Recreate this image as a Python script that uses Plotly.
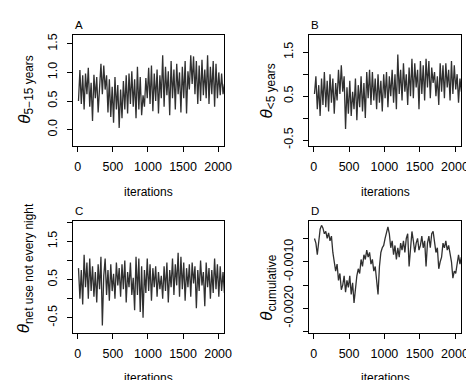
import plotly.graph_objects as go

iterations = list(range(10, 2091, 20))

theta_5_15 = [
    0.50, 1.04, 0.45, 0.95, 0.35, 0.98, 0.62, 1.08, 0.40, 0.82,
    0.15, 0.96, 0.55, 0.92, 0.30, 0.78, 1.15, 0.62, 1.12, 0.70,
    0.95, 0.30, 0.88, 0.22, 0.75, 0.12, 0.92, 0.35, 0.78, 0.03,
    0.70, 0.20, 0.85, 0.35, 0.95, 0.28, 0.98, 0.45, 1.02, 0.40,
    0.88, 0.20, 1.10, 0.35, 0.92, 0.25, 0.60, 0.40, 0.90, 0.55,
    1.08, 0.45, 1.12, 0.32, 0.98, 0.50, 1.05, 0.28, 0.95, 0.55,
    1.30, 0.40, 1.10, 0.60, 1.02, 0.25, 1.20, 0.55, 1.05, 0.35,
    1.15, 0.62, 1.00, 0.30, 1.10, 0.55, 1.20, 0.28, 1.02, 0.70,
    1.30, 0.80, 1.28, 0.62, 1.20, 0.45, 1.12, 0.50, 1.22, 0.60,
    1.05, 0.55, 1.30, 0.45, 1.10, 0.62, 1.20, 0.40, 1.15, 0.55,
    1.00, 0.60, 0.98, 0.62, 0.80,
]

theta_lt5 = [
    0.55, 0.95, 0.20, 0.75, 0.05, 0.90, 0.30, 1.05, 0.25, 0.85,
    0.15, 1.00, 0.35, 0.90, 0.10, 0.80, 0.40, 1.10, 0.55, 1.20,
    0.60, 0.95, -0.25, 0.70, 0.10, 0.85, 0.05, 0.60, 0.20, 0.90,
    -0.05, 0.75, 0.25, 0.95, 0.15, 0.80, 0.00, 1.05, 0.45, 1.10,
    0.30, 1.05, 0.40, 0.90, 0.20, 1.00, 0.35, 0.85, 0.15, 1.00,
    0.45, 1.05, 0.25, 0.95, 0.50, 1.10, 0.35, 1.00, 0.20, 1.45,
    0.55, 1.10, 0.40, 1.25, 0.60, 1.00, 0.30, 1.15, 0.50, 1.35,
    0.45, 1.25, 0.70, 1.10, 0.20, 1.30, 0.55, 1.20, 0.40, 1.35,
    0.70, 1.30, 0.45, 1.15, 0.80, 1.05, 0.50, 0.95, 0.30, 1.25,
    0.60, 1.20, 0.45, 1.25, 0.70, 1.10, 0.40, 1.30, 0.55, 1.20,
    0.65, 1.00, 0.35, 0.90, 0.60,
]

theta_net = [
    0.80, 0.00, 0.75, -0.15, 1.15, 0.30, 0.95, 0.00, 1.05, 0.20,
    0.85, 0.05, 0.70, -0.10, 0.90, 0.25, 1.10, -0.70, 0.60, 1.05,
    0.10, 0.75, -0.05, 0.90, 0.20, 0.65, 0.00, 0.95, 0.35, 0.80,
    0.05, 0.90, 0.25, 1.00, -0.10, 0.70, 0.30, 0.95, 0.10, 0.55,
    -0.30, 1.10, 0.10, 1.05, -0.35, 0.85, -0.50, 0.75, 0.15, 1.05,
    0.20, 0.90, -0.05, 0.80, 0.30, 0.85, 0.05, 0.70, 0.25, 0.60,
    0.00, 0.85, 0.20, 0.95, -0.10, 0.75, 0.30, 1.05, 0.10, 0.90,
    0.35, 1.20, 0.05, 1.10, 0.25, 0.95, -0.05, 0.80, 0.30, 0.90,
    0.05, 0.95, 0.40, 0.85, -0.25, 0.75, 0.20, 1.00, 0.35, 0.70,
    -0.20, 0.95, 0.30, 0.80, 0.00, 0.75, 0.15, 1.05, 0.25, 0.90,
    0.05, 0.85, 0.20, 0.70, 0.15,
]

theta_cum = [
    -0.00050, -0.00060, -0.00085, -0.00055, -0.00030, -0.00022, -0.00028, -0.00040, -0.00035, -0.00050,
    -0.00038, -0.00055, -0.00045, -0.00080, -0.00100, -0.00120, -0.00105, -0.00140, -0.00125, -0.00160,
    -0.00150, -0.00130, -0.00165, -0.00140, -0.00155, -0.00130, -0.00170, -0.00145, -0.00188, -0.00150,
    -0.00130, -0.00115, -0.00125, -0.00095, -0.00110, -0.00085, -0.00095, -0.00075, -0.00090, -0.00080,
    -0.00105, -0.00095, -0.00120, -0.00110, -0.00150, -0.00170, -0.00110, -0.00080, -0.00070, -0.00065,
    -0.00050, -0.00035, -0.00025, -0.00040, -0.00070, -0.00055, -0.00085, -0.00065, -0.00095, -0.00070,
    -0.00090, -0.00060, -0.00075, -0.00055, -0.00080, -0.00050, -0.00040, -0.00110, -0.00060, -0.00035,
    -0.00055, -0.00080, -0.00060, -0.00050, -0.00075, -0.00065, -0.00045, -0.00070, -0.00055, -0.00110,
    -0.00060, -0.00045, -0.00070, -0.00040, -0.00035, -0.00060, -0.00080, -0.00070, -0.00115, -0.00100,
    -0.00090, -0.00060, -0.00070, -0.00055, -0.00075, -0.00065, -0.00080, -0.00100, -0.00135, -0.00120,
    -0.00125, -0.00100, -0.00085, -0.00105, -0.00090,
]

x_ticks = [0, 500, 1000, 1500, 2000]
panel_letters = ["A", "B", "C", "D"]
y_titles = [
    "<i>θ</i><sub>5−15 years</sub>",
    "<i>θ</i><sub>&lt;5 years</sub>",
    "<i>θ</i><sub>net use not every night</sub>",
    "<i>θ</i><sub>cumulative</sub>",
]

W, H = 474, 380
# panel boxes in pixels (left, right, top, bottom)
boxes = [(66, 220, 25, 138), (306, 461, 25, 138), (66, 220, 214, 327), (306, 461, 214, 327)]
series = [theta_5_15, theta_lt5, theta_net, theta_cum]
y_ranges = [[-0.29, 1.66], [-0.64, 1.90], [-0.89, 2.03], [-0.00252, -0.00013]]
y_tickvals = [
    [0, 0.5, 1.0, 1.5],
    [-0.5, 0, 0.5, 1.0, 1.5],
    [-0.5, 0, 0.5, 1.0, 1.5, 2.0],
    [-0.0025, -0.0020, -0.0015, -0.0010, -0.0005],
]
y_ticktext = [
    ["0.0", "0.5", "1.0", "1.5"],
    ["-0.5", " ", "0.5", " ", "1.5"],
    ["-0.5", " ", "0.5", " ", "1.5", " "],
    [" ", "-0.0020", " ", "-0.0010", " "],
]
title_pos = [(18, 81), (264, 82), (17, 262), (265, 282)]

fig = go.Figure()
font_family = "Liberation Sans, Arial, sans-serif"
annotations = []
for i in range(4):
    l, r, t, b = boxes[i]
    xa = "xaxis" if i == 0 else f"xaxis{i+1}"
    ya = "yaxis" if i == 0 else f"yaxis{i+1}"
    xref = "x" if i == 0 else f"x{i+1}"
    yref = "y" if i == 0 else f"y{i+1}"
    fig.add_trace(go.Scatter(
        x=iterations, y=series[i], mode="lines",
        line=dict(color="#303030", width=1.3),
        xaxis=xref, yaxis=yref, showlegend=False, hoverinfo="skip",
    ))
    fig.layout[xa] = dict(
        domain=[l / W, r / W], anchor=yref, range=[-70, 2088],
        tickvals=x_ticks, ticktext=[str(v) for v in x_ticks],
        ticks="outside", ticklen=5, tickcolor="black",
        showline=True, linecolor="black", linewidth=1, mirror=True,
        showgrid=False, zeroline=False,
        tickfont=dict(size=12.5, color="black", family=font_family),
        ticklabelstandoff=4,
    )
    fig.layout[ya] = dict(
        domain=[1 - b / H, 1 - t / H], anchor=xref, range=y_ranges[i],
        tickvals=y_tickvals[i], ticktext=y_ticktext[i],
        ticks="outside", ticklen=5, tickcolor="black", tickangle=-90,
        showline=True, linecolor="black", linewidth=1, mirror=True,
        showgrid=False, zeroline=False,
        tickfont=dict(size=12.5, color="black", family=font_family),
        ticklabelstandoff=5,
    )
    annotations.append(dict(
        text=panel_letters[i], x=l / W, y=1 - (t - 2) / H, xref="paper", yref="paper",
        xanchor="left", yanchor="bottom", showarrow=False,
        font=dict(size=11.5, color="black", family=font_family),
    ))
    annotations.append(dict(
        text="iterations", x=(l + r) / 2 / W, y=1 - (b + 46) / H, xref="paper", yref="paper",
        xanchor="center", yanchor="middle", showarrow=False,
        font=dict(size=12, color="black", family=font_family),
    ))
    tx, ty = title_pos[i]
    annotations.append(dict(
        text=y_titles[i], x=tx / W, y=1 - ty / H, xref="paper", yref="paper",
        xanchor="center", yanchor="middle", showarrow=False, textangle=-90,
        font=dict(size=17, color="black", family=font_family),
    ))

fig.update_layout(
    width=W, height=H, margin=dict(l=0, r=0, t=0, b=0),
    paper_bgcolor="white", plot_bgcolor="white",
    annotations=annotations,
)

fig.write_html("out.html")
